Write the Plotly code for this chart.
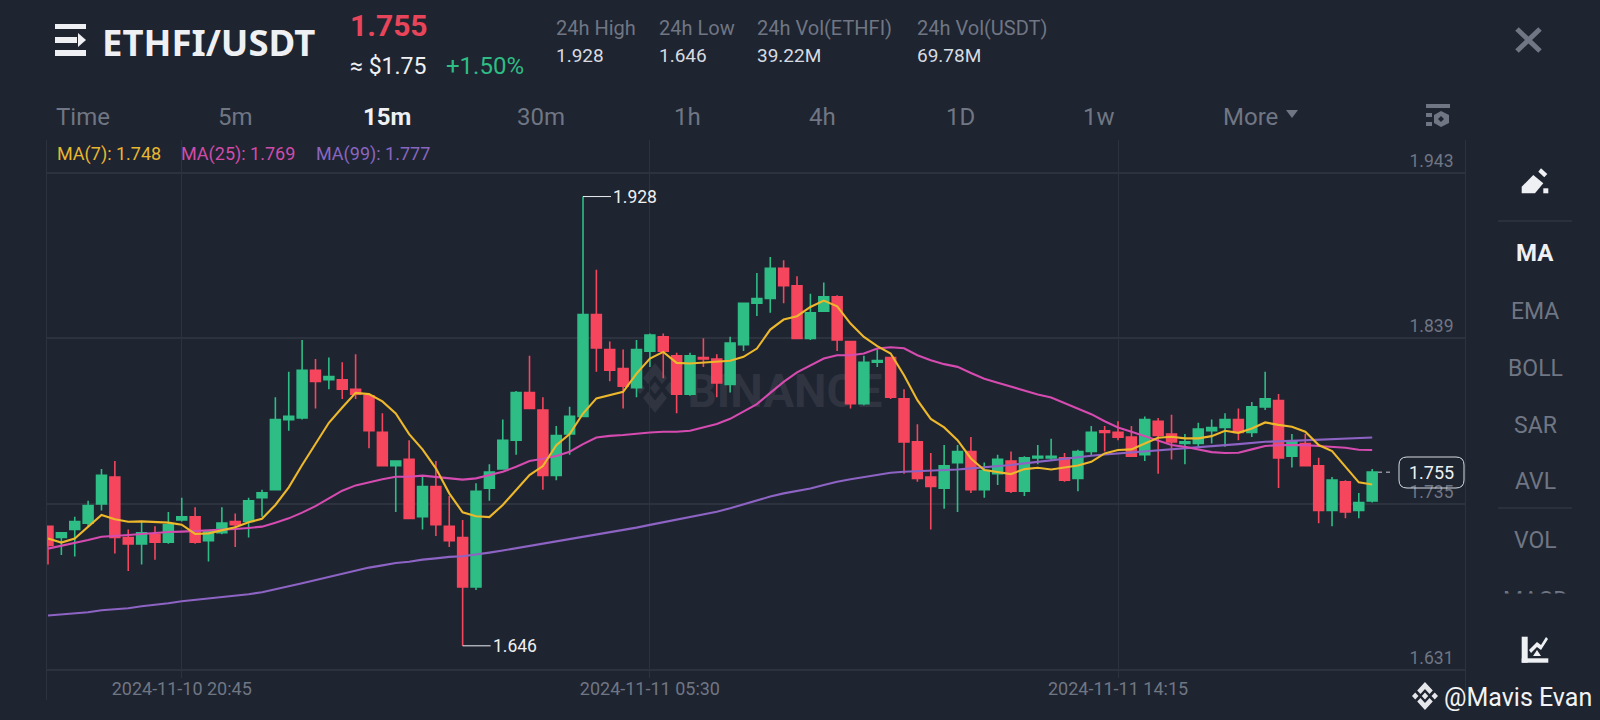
import pandas as pd
import plotly.graph_objs as go

# 15 minute candles
start_time = '2024-11-10 18:15'
opens = [1.721, 1.714, 1.719, 1.723, 1.735, 1.752, 1.714, 1.710, 1.716, 1.711,
         1.725, 1.727, 1.712, 1.717, 1.724, 1.724, 1.739, 1.744, 1.788, 1.789,
         1.819, 1.813, 1.813, 1.807, 1.803, 1.780, 1.759, 1.763, 1.727, 1.746,
         1.721, 1.714, 1.683, 1.745, 1.757, 1.775, 1.805, 1.794, 1.753, 1.779,
         1.790, 1.854, 1.832, 1.820, 1.808, 1.831, 1.840, 1.828, 1.804, 1.827,
         1.826, 1.810, 1.835, 1.861, 1.864, 1.883, 1.872, 1.839, 1.856, 1.865,
         1.837, 1.798, 1.824, 1.827, 1.801, 1.774, 1.752, 1.745, 1.761, 1.768,
         1.744, 1.754, 1.762, 1.743, 1.764, 1.764, 1.764, 1.751, 1.768, 1.781,
         1.780, 1.777, 1.766, 1.787, 1.779, 1.773, 1.773, 1.781, 1.783, 1.788,
         1.780, 1.796, 1.800, 1.765, 1.773, 1.759, 1.731, 1.749, 1.731, 1.737]
highs = [1.721, 1.717, 1.727, 1.737, 1.757, 1.762, 1.719, 1.724, 1.721, 1.730,
         1.739, 1.733, 1.718, 1.733, 1.729, 1.739, 1.744, 1.802, 1.818, 1.838,
         1.826, 1.827, 1.824, 1.829, 1.804, 1.792, 1.762, 1.775, 1.752, 1.762,
         1.740, 1.725, 1.748, 1.760, 1.788, 1.806, 1.828, 1.802, 1.784, 1.796,
         1.928, 1.882, 1.837, 1.832, 1.838, 1.842, 1.842, 1.830, 1.830, 1.839,
         1.829, 1.840, 1.861, 1.880, 1.890, 1.888, 1.878, 1.867, 1.874, 1.866,
         1.837, 1.828, 1.832, 1.827, 1.807, 1.785, 1.767, 1.772, 1.772, 1.777,
         1.761, 1.766, 1.768, 1.765, 1.772, 1.776, 1.767, 1.769, 1.784, 1.784,
         1.787, 1.784, 1.790, 1.789, 1.791, 1.779, 1.786, 1.788, 1.792, 1.795,
         1.799, 1.818, 1.804, 1.779, 1.779, 1.764, 1.752, 1.750, 1.742, 1.757]
lows = [1.697, 1.703, 1.702, 1.721, 1.731, 1.704, 1.693, 1.697, 1.700, 1.710,
        1.724, 1.710, 1.699, 1.716, 1.708, 1.714, 1.727, 1.744, 1.781, 1.788,
        1.795, 1.807, 1.801, 1.801, 1.770, 1.759, 1.730, 1.726, 1.719, 1.715,
        1.708, 1.646, 1.681, 1.737, 1.757, 1.766, 1.795, 1.744, 1.750, 1.766,
        1.790, 1.818, 1.812, 1.795, 1.802, 1.821, 1.814, 1.792, 1.803, 1.821,
        1.802, 1.805, 1.831, 1.853, 1.855, 1.861, 1.839, 1.838, 1.856, 1.831,
        1.795, 1.797, 1.821, 1.801, 1.754, 1.749, 1.719, 1.732, 1.730, 1.742,
        1.739, 1.747, 1.742, 1.740, 1.760, 1.762, 1.749, 1.743, 1.765, 1.768,
        1.775, 1.765, 1.762, 1.754, 1.763, 1.760, 1.771, 1.773, 1.771, 1.775,
        1.777, 1.794, 1.745, 1.758, 1.759, 1.723, 1.721, 1.726, 1.726, 1.736]
closes = [1.709, 1.717, 1.724, 1.734, 1.753, 1.714, 1.710, 1.717, 1.711, 1.722,
          1.727, 1.711, 1.718, 1.723, 1.722, 1.737, 1.742, 1.788, 1.790, 1.819,
          1.812, 1.815, 1.807, 1.804, 1.781, 1.759, 1.762, 1.726, 1.746, 1.722,
          1.712, 1.683, 1.743, 1.755, 1.775, 1.805, 1.795, 1.753, 1.778, 1.790,
          1.854, 1.833, 1.819, 1.809, 1.832, 1.841, 1.831, 1.804, 1.828, 1.826,
          1.811, 1.836, 1.861, 1.864, 1.883, 1.872, 1.839, 1.855, 1.865, 1.838,
          1.798, 1.824, 1.825, 1.802, 1.774, 1.751, 1.746, 1.759, 1.768, 1.744,
          1.756, 1.763, 1.743, 1.764, 1.765, 1.765, 1.750, 1.768, 1.780, 1.780,
          1.777, 1.765, 1.788, 1.778, 1.774, 1.774, 1.782, 1.783, 1.788, 1.780,
          1.796, 1.801, 1.764, 1.774, 1.759, 1.731, 1.750, 1.730, 1.736, 1.755]

ma7 = [1.7133, 1.7108, 1.7133, 1.7204, 1.7281, 1.7254, 1.7239, 1.7241, 1.7235, 1.7233,
       1.7220, 1.7162, 1.7166, 1.7187, 1.7204, 1.7235, 1.7258, 1.7344, 1.7455, 1.7595,
       1.7730, 1.7860, 1.7956, 1.8048, 1.8040, 1.7994, 1.7918, 1.7789, 1.7693, 1.7574,
       1.7417, 1.7298, 1.7273, 1.7268, 1.7344, 1.7438, 1.7532, 1.7588, 1.7720, 1.7789,
       1.7918, 1.8013, 1.8033, 1.8054, 1.8169, 1.8263, 1.8305, 1.8236, 1.8232, 1.8238,
       1.8245, 1.8249, 1.8274, 1.8326, 1.8445, 1.8508, 1.8529, 1.8587, 1.8627, 1.8591,
       1.8483, 1.8399, 1.8341, 1.8295, 1.8159, 1.8002, 1.7884, 1.7831, 1.7751, 1.7636,
       1.7563, 1.7549, 1.7538, 1.7569, 1.7578, 1.7567, 1.7578, 1.7592, 1.7615, 1.7668,
       1.7689, 1.7693, 1.7730, 1.7766, 1.7772, 1.7762, 1.7762, 1.7776, 1.7810, 1.7797,
       1.7824, 1.7862, 1.7847, 1.7835, 1.7804, 1.7720, 1.7682, 1.7584, 1.7486, 1.7473]
ma25 = [1.7070, 1.7087, 1.7103, 1.7124, 1.7145, 1.7149, 1.7156, 1.7162, 1.7170, 1.7174,
        1.7177, 1.7181, 1.7181, 1.7187, 1.7193, 1.7200, 1.7208, 1.7233, 1.7260, 1.7296,
        1.7337, 1.7386, 1.7434, 1.7467, 1.7488, 1.7505, 1.7521, 1.7521, 1.7528, 1.7519,
        1.7513, 1.7503, 1.7511, 1.7530, 1.7553, 1.7584, 1.7620, 1.7634, 1.7651, 1.7678,
        1.7726, 1.7768, 1.7778, 1.7783, 1.7793, 1.7799, 1.7804, 1.7804, 1.7810, 1.7829,
        1.7852, 1.7885, 1.7929, 1.7977, 1.8048, 1.8117, 1.8176, 1.8222, 1.8263, 1.8284,
        1.8284, 1.8295, 1.8326, 1.8334, 1.8328, 1.8284, 1.8253, 1.8228, 1.8211, 1.8173,
        1.8136, 1.8111, 1.8086, 1.8061, 1.8038, 1.8019, 1.7985, 1.7950, 1.7914, 1.7870,
        1.7831, 1.7804, 1.7776, 1.7747, 1.7720, 1.7709, 1.7693, 1.7676, 1.7670, 1.7672,
        1.7693, 1.7714, 1.7720, 1.7720, 1.7720, 1.7714, 1.7707, 1.7703, 1.7691, 1.7689]
ma99 = [1.6650, 1.6656, 1.6662, 1.6671, 1.6683, 1.6690, 1.6696, 1.6708, 1.6717, 1.6727,
        1.6740, 1.6748, 1.6756, 1.6765, 1.6773, 1.6784, 1.6796, 1.6813, 1.6834, 1.6853,
        1.6873, 1.6892, 1.6913, 1.6932, 1.6951, 1.6965, 1.6980, 1.6988, 1.7001, 1.7009,
        1.7018, 1.7022, 1.7032, 1.7045, 1.7058, 1.7072, 1.7087, 1.7101, 1.7115, 1.7130,
        1.7143, 1.7158, 1.7172, 1.7187, 1.7202, 1.7219, 1.7235, 1.7250, 1.7266, 1.7282,
        1.7302, 1.7323, 1.7348, 1.7375, 1.7397, 1.7417, 1.7434, 1.7448, 1.7470, 1.7490,
        1.7505, 1.7518, 1.7532, 1.7546, 1.7553, 1.7556, 1.7559, 1.7563, 1.7567, 1.7574,
        1.7580, 1.7586, 1.7595, 1.7605, 1.7615, 1.7626, 1.7634, 1.7643, 1.7653, 1.7661,
        1.7668, 1.7674, 1.7682, 1.7689, 1.7695, 1.7699, 1.7707, 1.7714, 1.7720, 1.7726,
        1.7735, 1.7741, 1.7743, 1.7747, 1.7749, 1.7751, 1.7755, 1.7762, 1.7766, 1.7768]

price_ticks = [1.943, 1.839, 1.735, 1.631]
time_ticks = ['2024-11-10 20:45', '2024-11-11 05:30', '2024-11-11 14:15']
tabs = ['Time', '5m', '15m', '30m', '1h', '4h', '1D', '1w', 'More']
side_items = ['EMA', 'BOLL', 'SAR', 'AVL', 'VOL']
stat_names = ['24h High', '24h Low', '24h Vol(ETHFI)', '24h Vol(USDT)']
stat_values = ['1.928', '1.646', '39.22M', '69.78M']

BG = '#1e2430'
GRID = '#2c323e'
GREY = '#707683'
GREEN = '#2ebd85'
RED = '#f6465d'
FONT = 'Roboto'

dates = pd.date_range(start_time, periods=len(closes), freq='15min')


def fx(x):
    return x / 1600


def fy(y):
    return 1 - y / 720


def text(x, y, s, size, color, anchor='left', bold=False, family=FONT):
    if bold:
        s = '<b>' + s + '</b>'
    return dict(x=fx(x), y=fy(y), xref='paper', yref='paper', text=s, showarrow=False,
                xanchor=anchor, yanchor='middle', font=dict(family=family, size=size, color=color))


def poly(points, color, layer='above'):
    path = 'M' + 'L'.join('{:.5f},{:.5f}'.format(fx(x), fy(y)) for x, y in points) + 'Z'
    return dict(type='path', path=path, xref='paper', yref='paper', fillcolor=color,
                line=dict(width=0), layer=layer)


def rect(x0, y0, x1, y1, color):
    return poly([(x0, y0), (x1, y0), (x1, y1), (x0, y1)], color)


def line(x0, y0, x1, y1, color, width=1):
    return dict(type='line', xref='paper', yref='paper', x0=fx(x0), y0=fy(y0), x1=fx(x1), y1=fy(y1),
                line=dict(color=color, width=width))


def logo(cx, cy, rx, ry, color, layer='above'):
    parts = [
        [(0, -.25), (.25, 0), (0, .25), (-.25, 0)],
        [(-.75, -.25), (-.5, 0), (-.75, .25), (-1, 0)],
        [(.75, -.25), (1, 0), (.75, .25), (.5, 0)],
        [(0, -1), (.6, -.4), (.35, -.15), (0, -.5), (-.35, -.15), (-.6, -.4)],
        [(0, 1), (.6, .4), (.35, .15), (0, .5), (-.35, .15), (-.6, .4)],
    ]
    return [poly([(cx + a * rx, cy + b * ry) for a, b in part], color, layer) for part in parts]


def main():
    fig = go.Figure()
    fig.add_trace(go.Candlestick(
        x=dates, open=opens, high=highs, low=lows, close=closes, whiskerwidth=0,
        increasing=dict(line=dict(color=GREEN, width=1.6), fillcolor=GREEN),
        decreasing=dict(line=dict(color=RED, width=1.6), fillcolor=RED)))
    for values, color in [(ma99, '#8d63c4'), (ma25, '#d54bb0'), (ma7, '#edb82b')]:
        fig.add_trace(go.Scatter(x=dates, y=values, mode='lines', line=dict(color=color, width=2.1)))

    notes = []
    # header
    notes.append(text(100, 42, 'ETHFI/USDT', 36.5, '#eef0f3', bold=True, family='Noto Sans'))
    notes.append(text(348, 26, '1.755', 30, '#e9455a', bold=True))
    notes.append(text(348, 66, '≈ $1.75', 23, '#eef0f3'))
    notes.append(text(444, 66, '+1.50%', 24, GREEN))
    for x, name, value in zip([554, 657, 755, 915], stat_names, stat_values):
        notes.append(text(x, 28, name, 20, GREY))
        notes.append(text(x, 56, value, 19, '#d8dbe0'))

    # interval tabs
    for x, tab in zip([54, 216, 361, 515, 672, 807, 944, 1081, 1221], tabs):
        if tab == '15m':
            notes.append(text(x, 117, tab, 24, '#eef0f3', bold=True))
        else:
            notes.append(text(x, 117, tab, 24, GREY))

    # moving average legend
    notes.append(text(55, 154, 'MA(7): 1.748', 18, '#e8b730'))
    notes.append(text(179, 154, 'MA(25): 1.769', 18, '#cf4cab'))
    notes.append(text(314, 154, 'MA(99): 1.777', 18, '#8a66c0'))

    # side panel
    notes.append(text(1535, 253, 'MA', 24, '#eef0f3', 'center', bold=True))
    for y, item in zip([311, 368, 425, 482, 540], side_items):
        notes.append(text(1535, y, item, 23, GREY, 'center'))
    notes.append(text(1535, 600, 'MACD', 23, GREY, 'center'))
    notes.append(dict(x=fx(1535), y=fy(593), xref='paper', yref='paper', text=' ', showarrow=False,
                      xanchor='center', yanchor='top', width=80, height=24, bgcolor=BG))

    # high and low markers
    notes.append(dict(x=dates[40], y=1.928, text='1.928', showarrow=True, arrowhead=0, arrowwidth=1,
                      arrowcolor='#eef0f3', ax=28, ay=0, xanchor='left',
                      font=dict(family=FONT, size=17.5, color='#eef0f3')))
    notes.append(dict(x=dates[31], y=1.646, text='1.646', showarrow=True, arrowhead=0, arrowwidth=1,
                      arrowcolor='#eef0f3', ax=28, ay=0, xanchor='left',
                      font=dict(family=FONT, size=17.5, color='#eef0f3')))

    # last price tag and watermark text
    notes.append(text(1431, 472, '1.755', 18, '#eef0f3', 'center'))
    notes.append(text(1442, 697, '@Mavis Evan', 25, '#f2f3f5'))

    shapes = []
    # chart frame
    shapes.append(line(46.5, 140, 46.5, 700, GRID))
    shapes.append(line(1465.5, 140, 1465.5, 700, GRID))
    # BINANCE watermark behind the candles
    shapes.append(dict(type='rect', xref='paper', yref='paper', x0=fx(685), y0=fy(408), x1=fx(885), y1=fy(368),
                       line=dict(width=0), fillcolor='rgba(0,0,0,0)', layer='below',
                       label=dict(text='<b>BINANCE</b>', font=dict(family=FONT, size=46, color='#2f3440'),
                                  textposition='middle center')))
    shapes += logo(655, 388, 20, 25, '#2f3440', 'below')
    # menu icon
    shapes.append(rect(55, 24, 86, 29, '#eef0f3'))
    shapes.append(rect(55, 37, 77, 43, '#eef0f3'))
    shapes.append(poly([(78, 33), (86, 40), (78, 47)], '#eef0f3'))
    shapes.append(rect(55, 50, 86, 56, '#eef0f3'))
    # close button
    shapes.append(line(1517, 29, 1540, 51, GREY, 5))
    shapes.append(line(1540, 29, 1517, 51, GREY, 5))
    # More arrow
    shapes.append(poly([(1286, 110), (1298, 110), (1292, 118)], GREY))
    # settings icon
    shapes.append(rect(1426, 104, 1450, 108, GREY))
    shapes.append(rect(1426, 113, 1432, 117, GREY))
    shapes.append(rect(1426, 122, 1432, 126, GREY))
    shapes.append(poly([(1441, 111), (1449, 115), (1449, 123), (1441, 127), (1434, 123), (1434, 115)], GREY))
    shapes.append(poly([(1441, 116), (1444, 119), (1441, 122), (1438, 119)], BG))
    # pen icon
    shapes.append(poly([(1521.7, 186.7), (1533.3, 175), (1543.3, 183.3), (1535, 193.3), (1521.7, 193.3)], '#eef0f3'))
    shapes.append(poly([(1538.3, 171.7), (1541, 168.3), (1547.3, 174), (1544.3, 177.3)], '#eef0f3'))
    shapes.append(rect(1543.3, 188.3, 1548.3, 193.3, '#eef0f3'))
    # chart type icon
    shapes.append(rect(1521.7, 636.7, 1527.7, 662.7, '#eef0f3'))
    shapes.append(rect(1521.7, 658.3, 1548.3, 662.7, '#eef0f3'))
    shapes.append(poly([(1529, 650), (1537, 642), (1541, 645), (1546, 637), (1548, 639), (1541, 650), (1537, 647), (1531, 653)], '#eef0f3'))
    shapes.append(poly([(1537, 650), (1541, 656), (1533, 656)], '#eef0f3'))
    # side panel separators
    for y in [221, 508, 609]:
        shapes.append(line(1498, y, 1572, y, '#363c48'))
    # price tag
    shapes.append(dict(type='path', xref='paper', yref='paper', line=dict(color='#d8dbe0', width=1),
                       path='M{},{}L{},{}Q{},{} {},{}L{},{}Q{},{} {},{}L{},{}Q{},{} {},{}L{},{}Q{},{} {},{}Z'.format(
                           fx(1407), fy(457), fx(1456), fy(457), fx(1464), fy(457), fx(1464), fy(465),
                           fx(1464), fy(480), fx(1464), fy(488), fx(1456), fy(488),
                           fx(1407), fy(488), fx(1399), fy(488), fx(1399), fy(480),
                           fx(1399), fy(465), fx(1399), fy(457), fx(1407), fy(457))))
    shapes.append(dict(type='line', xref='paper', yref='y', x0=fx(1378), x1=fx(1392), y0=closes[-1], y1=closes[-1],
                       line=dict(color='#c8ccd2', width=1, dash='4px,4px')))
    shapes += logo(1425, 696, 13, 14, '#e6e7ea')

    fig.update_layout(
        width=1600, height=720, margin=dict(l=0, r=0, t=0, b=0),
        paper_bgcolor=BG, plot_bgcolor=BG, showlegend=False,
        boxgap=0.14, boxgroupgap=0.14,
        annotations=notes, shapes=shapes,
        xaxis=dict(domain=[fx(46.5), fx(1465.5)], range=['2024-11-10 18:13:20', '2024-11-11 20:44:40'],
                   rangeslider=dict(visible=False), tickmode='array', tickvals=time_ticks,
                   tickformat='%Y-%m-%d %H:%M', showgrid=True, gridcolor=GRID, gridwidth=1,
                   zeroline=False, showline=False, ticks='', ticklabelstandoff=-2,
                   tickfont=dict(family=FONT, size=18, color=GREY)),
        yaxis=dict(domain=[fy(678), fy(140)], range=[1.6258, 1.9635], side='right',
                   tickmode='array', tickvals=price_ticks, tickformat='.3f',
                   ticklabelposition='inside', ticklabelshift=-12, ticklabelstandoff=9,
                   showgrid=True, gridcolor=GRID, gridwidth=1.5, zeroline=False, showline=False, ticks='',
                   tickfont=dict(family=FONT, size=17.5, color=GREY)))

    fig.write_html("out.html", config={'displayModeBar': False}, post_script="document.body.style.margin='0';")


if __name__ == '__main__':
    main()
